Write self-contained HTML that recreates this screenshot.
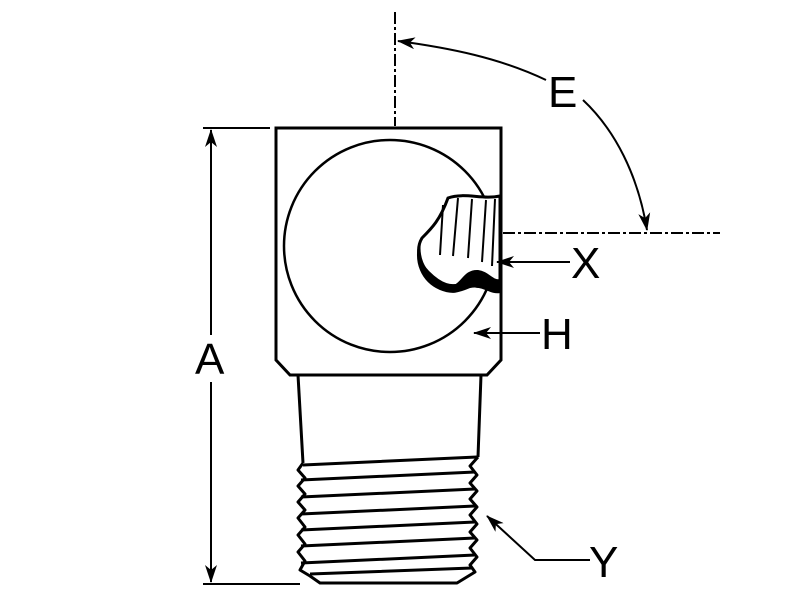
<!DOCTYPE html>
<html><head><style>
body{margin:0;background:#fff;}
svg{display:block;}
text{font-family:"Liberation Sans",sans-serif;fill:#000;}
</style></head><body>
<svg width="800" height="600" viewBox="0 0 800 600">
<defs>
<marker id="ar" markerWidth="18" markerHeight="12" refX="17" refY="6" orient="auto" markerUnits="userSpaceOnUse">
<path d="M0,0 L18,6 L0,12 L5,6 Z" fill="#000"/>
</marker>
<clipPath id="cl"><rect x="0" y="0" width="500" height="600"/></clipPath>
</defs>
<g stroke="#000" fill="none">
<line x1="395" y1="12" x2="395" y2="126" stroke-width="2" stroke-dasharray="12,3,3,3"/>
<line x1="503" y1="233" x2="720" y2="233" stroke-width="2" stroke-dasharray="12,3,3,3"/>
<path d="M276,128 L501,128 L501,360 L487,375 L290,375 L276,360 Z" stroke-width="3"/>
<circle cx="390" cy="246" r="106" stroke-width="2.5" clip-path="url(#cl)"/>
<path d="M298,375 L303,463 M481,375 L478,457" stroke-width="3"/>
<path d="M303,463 L298,470 L305,478 L298,486 L305,494 L298,502 L305,510 L298,518 L305,527 L298,535 L305,544 L298,552 L305,561 L300,570 L310,576 L320,583 L457,583 L475,572 L470,565 L477,557 L470,548 L477,540 L470,532 L477,524 L470,515 L477,507 L470,499 L477,491 L470,483 L477,475 L470,466 L478,457" stroke-width="3" stroke-linejoin="round"/>
<path d="M303,465 L477,457 M301,480 L475,472 M301,497 L475,489 M301,514 L475,506 M301,530 L475,522 M301,546 L475,538 M301,563 L475,555 M310,574 L472,568" stroke-width="3"/>
<!-- cutaway -->
<path d="M448,198 C465,192 482,200 500,196 L500,288 C490,285 478,290 465,282 C452,290 440,284 428,272 C418,262 416,248 422,238 C432,228 440,220 448,198 Z" fill="#fff" stroke-width="3"/>
<path d="M420,242 C417,262 430,282 448,286 C462,289 462,270 478,271 C488,272 493,282 500,280 L500,292 C490,294 482,284 470,287 C458,292 452,294 440,289 C422,281 414,262 420,242 Z" fill="#000" stroke="#000" stroke-width="2"/>
<path d="M443,205 L440,255 M458,198 L453,256 M472,199 L468,258 M486,200 L482,262 M495,199 L492,266" stroke-width="2"/>
<line x1="203" y1="128" x2="270" y2="128" stroke-width="2"/>
<line x1="203" y1="584" x2="300" y2="584" stroke-width="2"/>
<line x1="211" y1="335" x2="211" y2="130" stroke-width="2" marker-end="url(#ar)"/>
<line x1="211" y1="382" x2="211" y2="582" stroke-width="2" marker-end="url(#ar)"/>
<path d="M546,80 C500,58 450,48 398,41" stroke-width="2" marker-end="url(#ar)"/>
<path d="M583,100 C615,130 638,175 647,230" stroke-width="2" marker-end="url(#ar)"/>
<line x1="570" y1="262" x2="497" y2="262" stroke-width="2" marker-end="url(#ar)"/>
<line x1="540" y1="333" x2="474" y2="333" stroke-width="2" marker-end="url(#ar)"/>
<path d="M590,560 L535,560 L487,516" stroke-width="2" marker-end="url(#ar)"/>
</g>
<text x="195" y="374" font-size="44">A</text>
<text x="548" y="107" font-size="44">E</text>
<text x="571" y="278" font-size="44">X</text>
<text x="541" y="349" font-size="44">H</text>
<text x="589" y="577" font-size="44">Y</text>
</svg>
</body></html>
